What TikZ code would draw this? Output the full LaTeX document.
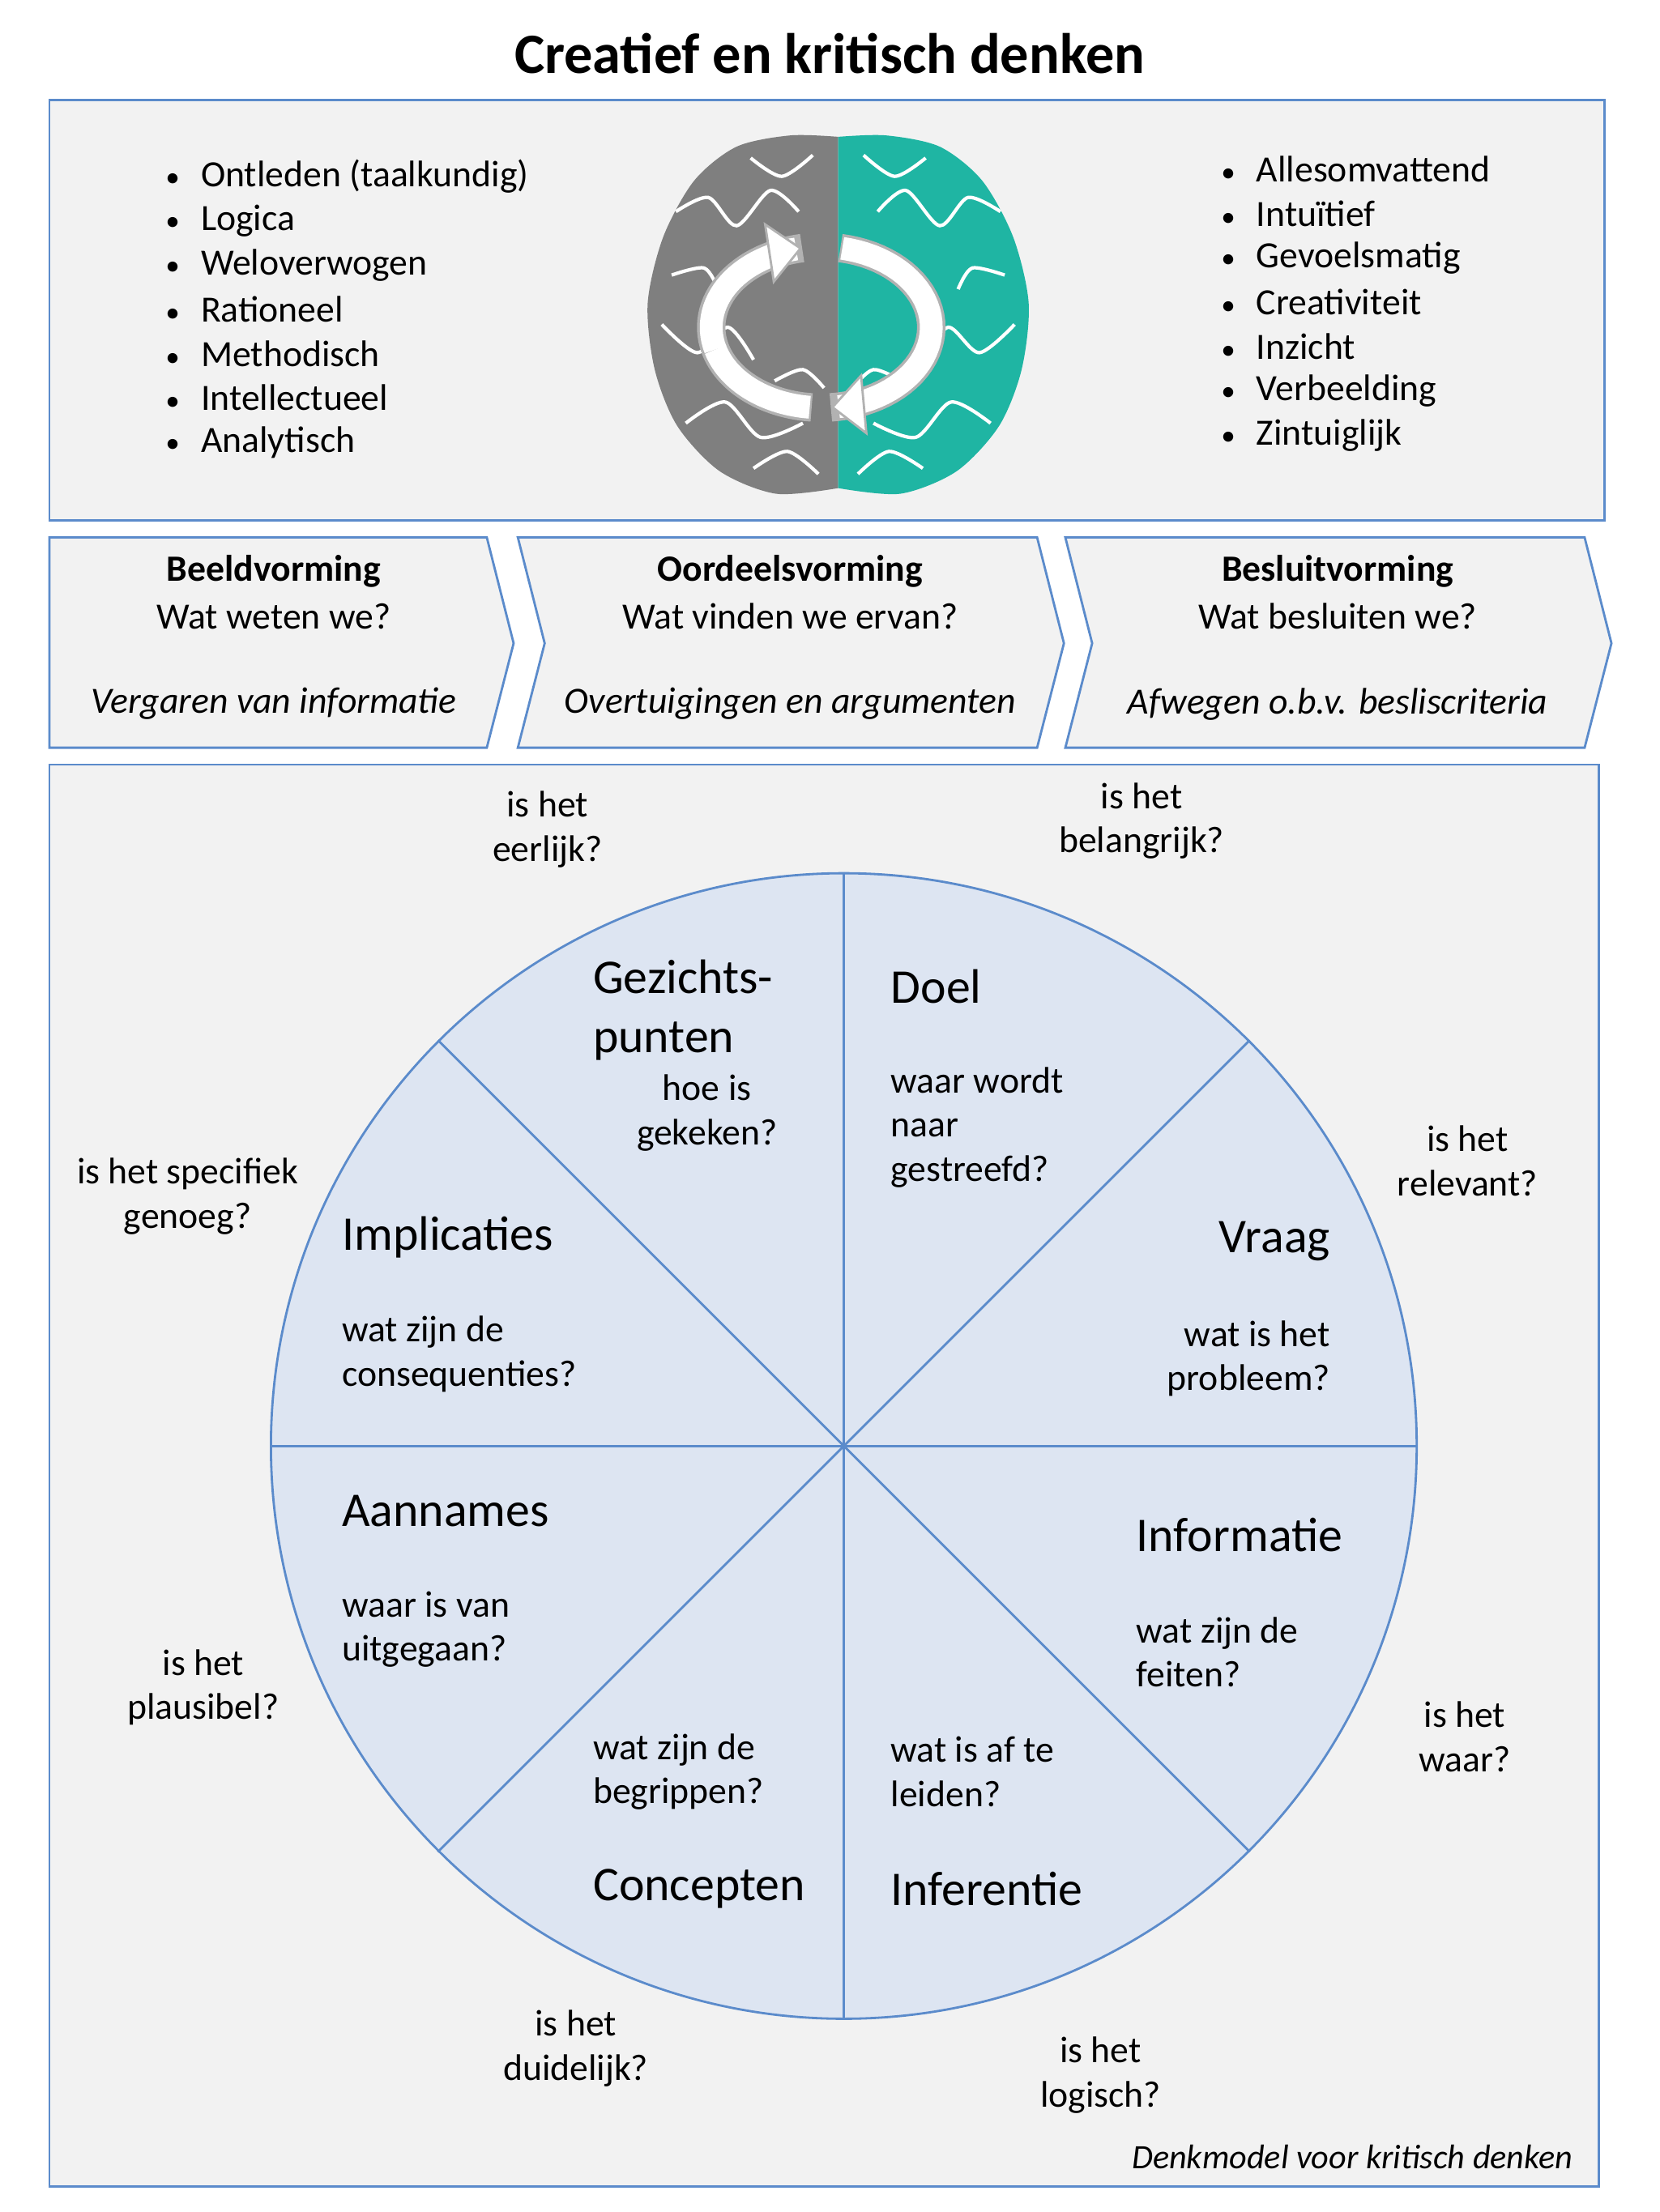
\documentclass[tikz,border=0pt]{standalone}
\usepackage{fontspec}
\setmainfont{Carlito}
\usetikzlibrary{arrows.meta}
\definecolor{boxblue}{HTML}{5B8BCB}
\definecolor{boxgray}{HTML}{F2F2F2}
\definecolor{wheel}{HTML}{DDE5F2}
\definecolor{brainteal}{HTML}{1FB5A3}
\definecolor{braingray}{HTML}{7F7F7F}
\newcommand{\blt}{\makebox[12.4pt][l]{\fontsize{10}{10}\selectfont\textbullet}}
\begin{document}
\begin{tikzpicture}[x=0.017415cm,y=-0.017415cm,
  body/.style={font=\fontsize{13}{15.5}\selectfont,align=left,inner sep=0},
  head/.style={font=\fontsize{17}{21}\selectfont,align=left,inner sep=0},
  frame/.style={draw=boxblue,fill=boxgray,line width=0.8pt},
  fold/.style={white,line width=1.2pt}]
\newcommand{\R}{406}
\useasboundingbox (0,0) rectangle (1176,1568);

% Title and top box
\node[font=\fontsize{20}{24}\selectfont\bfseries] (title) at (588,38) {Creatief en kritisch denken};
\draw[frame] (35,71) rectangle (1137,369);

\foreach \t [count=\i] in {Ontleden (taalkundig),Logica,Weloverwogen,Rationeel,Methodisch,Intellectueel,Analytisch}
  \node[body,anchor=west] (left\i) at (117,125+31.4*\i-31.4) {\blt\t};
\foreach \t [count=\i] in {Allesomvattend,Intuïtief,Gevoelsmatig,Creativiteit,Inzicht,Verbeelding,Zintuiglijk}
  \node[body,anchor=west] (right\i) at (865,120+31.4*\i-31.4) {\blt\t};

% Brain
\foreach \s/\c in {1/braingray,-1/brainteal} {
  \begin{scope}[shift={(594,0)},xscale=\s]
    \fill[\c] (0,97) -- plot[smooth] coordinates {(0,97) (-34,96) (-72,104) (-102,128) (-124,168) (-135,215) (-130,262) (-114,302) (-84,334) (-44,350) (0,346)} -- cycle;
    \draw[fold] plot[smooth] coordinates {(-115,150) (-92,140) (-72,160) (-48,135) (-28,150)};
    \draw[fold] plot[smooth] coordinates {(-125,230) (-100,250) (-78,232) (-60,255)};
    \draw[fold] plot[smooth] coordinates {(-108,300) (-80,285) (-55,310) (-25,300)};
    \draw[fold] plot[smooth] coordinates {(-62,112) (-40,125) (-18,110)};
    \draw[fold] plot[smooth] coordinates {(-60,332) (-36,320) (-14,336)};
    \draw[fold] plot[smooth] coordinates {(-118,195) (-95,190) (-85,205)};
    \draw[fold] plot[smooth] coordinates {(-45,270) (-25,262) (-10,275)};
  \end{scope}
}
% Cycle arrows
\draw[line width=10pt,gray!60] plot[domain=195:265,samples=30,variable=\t] ({582+78*cos(\t)},{232-57*sin(\t)});
\draw[line width=8pt,white] plot[domain=196:264,samples=30,variable=\t] ({582+78*cos(\t)},{232-57*sin(\t)});
\draw[line width=10pt,gray!60] plot[domain=195:100,samples=30,variable=\t] ({582+78*cos(\t)},{232-57*sin(\t)});
\draw[line width=8pt,white,-{Triangle[width=22pt,length=12pt,fill=white,color=gray!60,line width=0.8pt]}] plot[domain=196:100,samples=30,variable=\t] ({582+78*cos(\t)},{232-57*sin(\t)});
\draw[line width=10pt,gray!60] plot[domain=80:-85,samples=40,variable=\t] ({582+78*cos(\t)},{232-57*sin(\t)});
\draw[line width=8pt,white,-{Triangle[width=22pt,length=12pt,fill=white,color=gray!60,line width=0.8pt]}] plot[domain=79:-85,samples=40,variable=\t] ({582+78*cos(\t)},{232-57*sin(\t)});

% Chevrons
\draw[frame] (35,381) -- (345,381) -- (364,456) -- (345,530) -- (35,530) -- cycle;
\draw[frame] (367,381) -- (735,381) -- (754,456) -- (735,530) -- (367,530) -- (386,456) -- cycle;
\draw[frame] (755,381) -- (1123,381) -- (1142,456) -- (1123,530) -- (755,530) -- (774,456) -- cycle;
\foreach \x/\a/\b/\c [count=\i] in {194/Beeldvorming/Wat weten we?/Vergaren van informatie,
    560/Oordeelsvorming/Wat vinden we ervan?/Overtuigingen en argumenten,
    948/Besluitvorming/Wat besluiten we?/Afwegen o.b.v. besliscriteria} {
  \node[body,font=\fontsize{13}{15.5}\selectfont\bfseries] (phase\i) at (\x,405) {\a};
  \node[body] (ask\i) at (\x,437) {\b};
  \node[body,font=\fontsize{13}{15.5}\selectfont\itshape] (how\i) at (\x,499) {\c};
}

% Wheel
\draw[frame] (35,542) rectangle (1133,1550);
\node[draw=boxblue,fill=wheel,circle,minimum size=2*\R*0.017415cm,line width=0.8pt,inner sep=0] (wheel) at (598,1025) {};
\foreach \a in {0,45,...,135}
  \draw[boxblue,line width=0.8pt] (wheel.\a) -- (wheel.{\a+180});

\node[head,anchor=west] (gez) at (420,716) {Gezichts-\\punten};
\node[body,align=center] (gezq) at (501,789) {hoe is\\gekeken?};
\node[head,anchor=west] (doel) at (631,699) {Doel};
\node[body,anchor=west] (doelq) at (631,799) {waar wordt\\naar\\gestreefd?};
\node[head,anchor=east] (vraag) at (943,880) {Vraag};
\node[body,anchor=east,align=right] (vraagq) at (943,963) {wat is het\\probleem?};
\node[head,anchor=west] (impl) at (242,877) {Implicaties};
\node[body,anchor=west] (implq) at (242,960) {wat zijn de\\consequenties?};
\node[head,anchor=west] (aann) at (242,1071) {Aannames};
\node[body,anchor=west] (aannq) at (242,1155) {waar is van\\uitgegaan?};
\node[head,anchor=west] (info) at (805,1088) {Informatie};
\node[body,anchor=west] (infoq) at (805,1171) {wat zijn de\\feiten?};
\node[body,anchor=west] (concq) at (420,1256) {wat zijn de\\begrippen?};
\node[head,anchor=west] (conc) at (420,1339) {Concepten};
\node[body,anchor=west] (infq) at (631,1256) {wat is af te\\leiden?};
\node[head,anchor=west] (inf) at (631,1339) {Inferentie};

% Criteria around the wheel
\node[body,align=center] (eerlijk) at (388,588) {is het\\eerlijk?};
\node[body,align=center] (belangrijk) at (809,582) {is het\\belangrijk?};
\node[body,align=center] (relevant) at (1040,823) {is het\\relevant?};
\node[body,align=center] (specifiek) at (133,848) {is het specifiek\\genoeg?};
\node[body,align=center] (plausibel) at (144,1196) {is het\\plausibel?};
\node[body,align=center] (waar) at (1038,1231) {is het\\waar?};
\node[body,align=center] (duidelijk) at (408,1452) {is het\\duidelijk?};
\node[body,align=center] (logisch) at (780,1471) {is het\\logisch?};
\node[body,anchor=east,font=\fontsize{12}{14}\selectfont\itshape] (model) at (1115,1529) {Denkmodel voor kritisch denken};
\end{tikzpicture}
\end{document}
